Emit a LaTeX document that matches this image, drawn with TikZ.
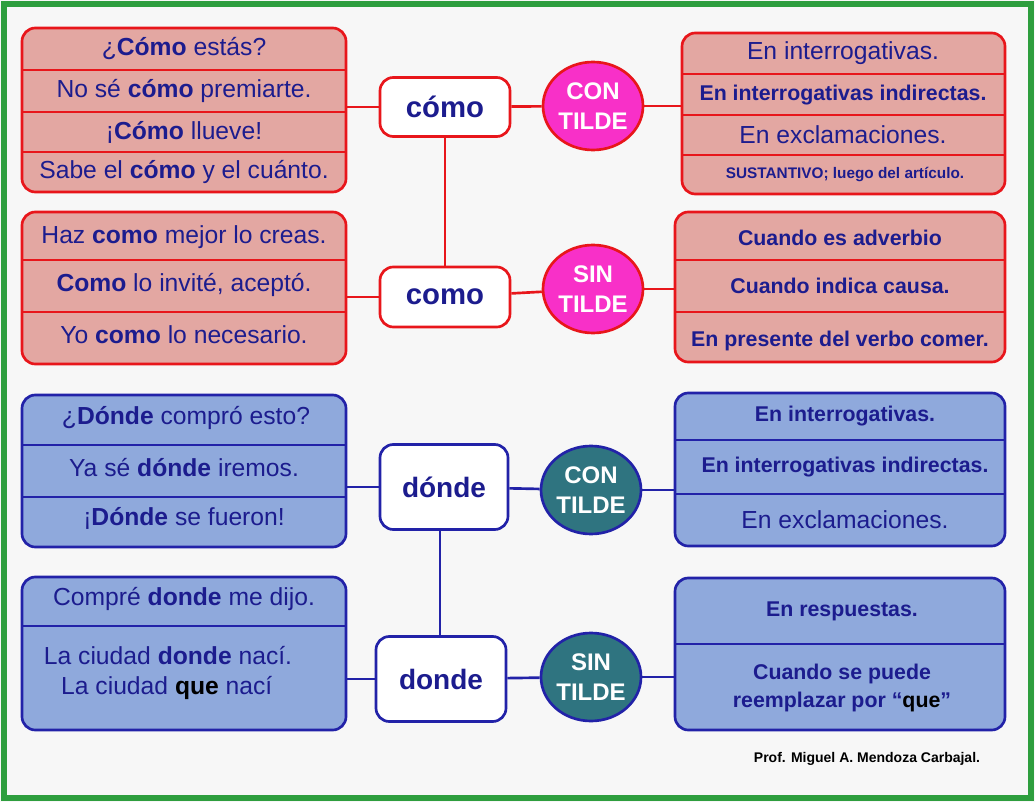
\documentclass[tikz,border=0pt]{standalone}
\usepackage{fontspec}
\setmainfont{Liberation Sans}
\usetikzlibrary{shapes.geometric}
\definecolor{frameg}{HTML}{2E9E3E}
\definecolor{redl}{HTML}{E8161B}
\definecolor{pinkf}{HTML}{E3A7A2}
\definecolor{bluel}{HTML}{2222A8}
\definecolor{bluef}{HTML}{8FA9DC}
\definecolor{txtb}{HTML}{1C1C8E}
\definecolor{mag}{HTML}{F830C8}
\definecolor{teal}{HTML}{2F7480}
\begin{document}
\begin{tikzpicture}[x=0.75pt,y=-0.75pt,
 bx/.style n args={2}{minimum width=#1*0.75pt, minimum height=#2*0.75pt, inner sep=0pt, rounded corners=10pt},
 pbox/.style={draw=redl, fill=pinkf, line width=2pt},
 bbox/.style={draw=bluel, fill=bluef, line width=2pt},
 wpbox/.style={draw=redl, fill=white, line width=2pt, font=\fontsize{22}{24}\selectfont\bfseries, text=txtb},
 wbbox/.style={draw=bluel, fill=white, line width=2pt, font=\fontsize{21}{24}\selectfont\bfseries, text=txtb},
 circ/.style={ellipse, minimum width=100*0.75pt, minimum height=88*0.75pt, inner sep=0pt, text=white, font=\fontsize{18}{22}\selectfont\bfseries, align=center, line width=2pt},
 t/.style={text=txtb, font=\fontsize{18.5}{23}\selectfont, align=center},
 tb/.style={text=txtb, font=\fontsize{16}{21}\selectfont\bfseries, align=center},
 rl/.style={redl, line width=2pt},
 bl/.style={bluel, line width=2pt}]
\fill[white!97!black] (0,0) rectangle (1035,802);
\draw[frameg, line width=4.5pt] (4,4) rectangle (1031,798);
% ---------- como section
\node[bx={324}{164}, pbox] (L1) at (184,110) {};
\foreach \y in {70,112,152} \draw[rl] (22,\y) -- (346,\y);
\node[t] at (184,49) {¿\textbf{Cómo} estás?};
\node[t] at (184,91) {No sé \textbf{cómo} premiarte.};
\node[t] at (184,132) {¡\textbf{Cómo} llueve!};
\node[t] at (184,172) {Sabe el \textbf{cómo} y el cuánto.};
\node[bx={324}{152}, pbox] (L2) at (184,288) {};
\foreach \y in {260,312} \draw[rl] (22,\y) -- (346,\y);
\node[t] at (184,237) {Haz \textbf{como} mejor lo creas.};
\node[t] at (184,285) {\textbf{Como} lo invité, aceptó.};
\node[t] at (184,335) {Yo \textbf{como} lo necesario.};
\node[bx={130}{59}, wpbox] (N1) at (445,107) {cómo};
\node[bx={130}{60}, wpbox] (N2) at (445,297) {como};
\draw[rl] (N1) -- (N2);
\draw[rl] (L1.east |- N1) -- (N1);
\draw[rl] (L2.east |- N2) -- (N2);
\node[circ, fill=mag, draw=redl] (C1) at (593,106) {CON\\TILDE};
\node[circ, fill=mag, draw=redl] (C2) at (593,289) {SIN\\TILDE};
\draw[rl] (N1) -- (C1); \draw[rl] (N2) -- (C2);
\node[bx={323}{161}, pbox] (R1) at (843.5,113.5) {};
\foreach \y in {74,115,155} \draw[rl] (682,\y) -- (1005,\y);
\node[t] at (843,53) {En interrogativas.};
\node[tb] at (843,95) {En interrogativas indirectas.};
\node[t] at (843,135) {En exclamaciones.};
\node[tb, font=\fontsize{11.5}{13}\selectfont\bfseries] at (845,175) {SUSTANTIVO; luego del artículo.};
\node[bx={330}{150}, pbox] (R2) at (840,287) {};
\foreach \y in {260,312} \draw[rl] (675,\y) -- (1005,\y);
\node[tb] at (840,238) {Cuando es adverbio};
\node[tb] at (840,286) {Cuando indica causa.};
\node[tb] at (840,341) {En presente del verbo comer.};
\draw[rl] (C1) -- (R1.west |- C1); \draw[rl] (C2) -- (R2.west |- C2);
% ---------- donde section
\node[bx={324}{152}, bbox] (L3) at (184,471) {};
\foreach \y in {445,497} \draw[bl] (22,\y) -- (346,\y);
\node[t] at (186,418) {¿\textbf{Dónde} compró esto?};
\node[t] at (184,468) {Ya sé \textbf{dónde} iremos.};
\node[t] at (184,518) {¡\textbf{Dónde} se fueron!};
\node[bx={324}{153}, bbox] (L4) at (184,653.5) {};
\draw[bl] (22,626) -- (346,626);
\node[t] at (184,599) {Compré \textbf{donde} me dijo.};
\node[t, align=left] at (168,673) {La ciudad \textbf{donde} nací.\\\hspace*{0.7em}La ciudad \textbf{\textcolor{black}{que}} nací};
\node[bx={128}{85}, wbbox] (N3) at (444,487) {dónde};
\node[bx={130}{85}, wbbox] (N4) at (441,679) {donde};
\draw[bl] (440,530) -- (440,637);
\draw[bl] (L3.east |- N3) -- (N3);
\draw[bl] (L4.east |- N4) -- (N4);
\node[circ, fill=teal, draw=bluel] (C3) at (591,490) {CON\\TILDE};
\node[circ, fill=teal, draw=bluel] (C4) at (591,677) {SIN\\TILDE};
\draw[bl] (N3) -- (C3); \draw[bl] (N4) -- (C4);
\node[bx={330}{153}, bbox] (R3) at (840,469.5) {};
\foreach \y in {440,494} \draw[bl] (675,\y) -- (1005,\y);
\node[tb] at (845,416) {En interrogativas.};
\node[tb] at (845,467) {En interrogativas indirectas.};
\node[t] at (845,520) {En exclamaciones.};
\node[bx={330}{152}, bbox] (R4) at (840,654) {};
\draw[bl] (675,644) -- (1005,644);
\node[tb] at (842,611) {En respuestas.};
\node[tb] at (842,688) {Cuando se puede\\reemplazar por “\textcolor{black}{que}”};
\draw[bl] (C3) -- (R3.west |- C3); \draw[bl] (C4) -- (R4.west |- C4);
\node[font=\fontsize{10.5}{12}\selectfont\bfseries, text=black] (P) at (867,759) {Prof. Miguel A. Mendoza Carbajal.};
\end{tikzpicture}
\end{document}
